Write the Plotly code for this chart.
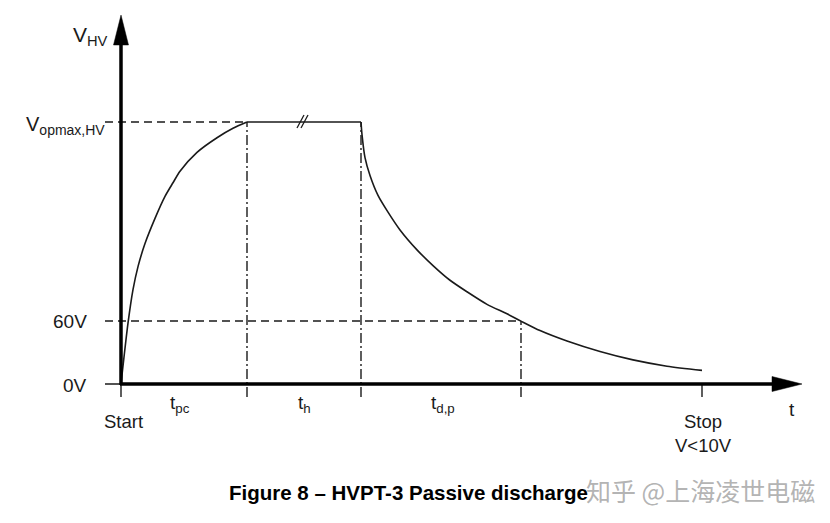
import plotly.graph_objects as go

# ---- data (schematic units: time in arbitrary units, voltage in schematic units) ----
t_charge = [0, 7, 12, 17, 24, 34, 44, 52, 59, 76, 96, 112, 126]
v_charge = [0, 58, 90, 112, 134, 158, 179, 192, 203, 221, 235, 244, 250]
t_hold = [126, 240]
v_hold = [250, 250]
t_discharge = [240, 241, 244, 249, 257, 267, 279, 296, 312, 329, 346, 366, 386, 400, 419, 446, 479, 512, 546, 581]
v_discharge = [250, 238, 216, 199, 180, 164, 147, 128, 113, 99, 88, 76, 67, 60, 51, 41, 31, 23, 17, 13]

t_marks = [0, 126, 240, 400, 581]          # start, end precharge, end hold, 60V crossing, stop
phase_labels = ["t<sub>pc</sub>", "t<sub>h</sub>", "t<sub>d,p</sub>"]
V_MAX = 250
V_60 = 60

K = 1.048  # pixels per voltage unit
X_RANGE = [-121, 709]
Y_RANGE = [-139 / K, 384 / K]

INK = "#1a1a1a"
FONT = "Liberation Sans, Arial, sans-serif"

fig = go.Figure()

curve_line = dict(color=INK, width=1.6, shape="spline", smoothing=0.7)
fig.add_trace(go.Scatter(x=t_charge, y=v_charge, mode="lines", line=curve_line, hoverinfo="skip"))
fig.add_trace(go.Scatter(x=t_hold, y=v_hold, mode="lines",
                         line=dict(color=INK, width=1.6), hoverinfo="skip"))
fig.add_trace(go.Scatter(x=t_discharge, y=v_discharge, mode="lines", line=curve_line, hoverinfo="skip"))

shapes = []
tick_len = 13 / K
y_top = 352          # arrow tip of V axis
y_base = 323.5       # arrow base
x_end = 681          # arrow tip of t axis
x_base = 651

# horizontal dashed guides
for lv in [V_60, V_MAX]:
    x_to = t_marks[1] if lv == V_MAX else t_marks[3]
    shapes.append(dict(type="line", x0=-16, x1=x_to, y0=lv, y1=lv,
                       line=dict(color=INK, width=1.5, dash="8px,5px")))
shapes.append(dict(type="line", x0=-16, x1=0, y0=0, y1=0, line=dict(color=INK, width=1.5)))

# vertical dash-dot guides
for tm in [t_marks[1], t_marks[2]]:
    shapes.append(dict(type="line", x0=tm, x1=tm, y0=-tick_len, y1=V_MAX,
                       line=dict(color=INK, width=1.4, dash="10px,3px,2px,3px")))
shapes.append(dict(type="line", x0=t_marks[3], x1=t_marks[3], y0=-tick_len, y1=V_60,
                   line=dict(color=INK, width=1.4, dash="10px,3px,2px,3px")))
for tm in [t_marks[0], t_marks[4]]:
    shapes.append(dict(type="line", x0=tm, x1=tm, y0=-tick_len, y1=0,
                       line=dict(color=INK, width=1.4)))

# axes
shapes.append(dict(type="line", x0=0, x1=0, y0=-1, y1=y_base + 2, line=dict(color="#000", width=3.5)))
shapes.append(dict(type="line", x0=-1, x1=x_base + 2, y0=0, y1=0, line=dict(color="#000", width=3.5)))
shapes.append(dict(type="path",
                   path=f"M -7.5 {y_base} L 7.5 {y_base} L 0 {y_top} Z",
                   fillcolor="#000", line=dict(color="#000", width=0.5)))
shapes.append(dict(type="path",
                   path=f"M {x_base} {-7.5 / K} L {x_base} {7.5 / K} L {x_end} 0 Z",
                   fillcolor="#000", line=dict(color="#000", width=0.5)))

# break mark on hold section
mid_hold = (t_hold[0] + t_hold[1]) / 2
for dx in [-4, 0]:
    shapes.append(dict(type="line", x0=mid_hold + dx - 3, x1=mid_hold + dx + 4,
                       y0=V_MAX - 6 / K, y1=V_MAX + 7 / K,
                       line=dict(color=INK, width=1.3)))

fig.update_layout(shapes=shapes)

ann = []
# level labels
ann.append(dict(x=0, y=0, text="0V", xanchor="right", yanchor="middle", xshift=-32, yshift=-1,
                font=dict(size=19, color=INK)))
ann.append(dict(x=0, y=V_60, text="60V", xanchor="right", yanchor="middle", xshift=-32,
                font=dict(size=19, color=INK)))
ann.append(dict(x=0, y=V_MAX, text="V<sub>opmax,HV</sub>", xanchor="right", yanchor="middle",
                xshift=-14, yshift=-3, font=dict(size=20, color=INK)))
ann.append(dict(x=0, y=y_top, text="V<sub>HV</sub>", xanchor="right", yanchor="middle",
                xshift=-11, yshift=-21, font=dict(size=21, color=INK)))

# phase labels
for i, lab in enumerate(phase_labels):
    xm = (t_marks[i] + t_marks[i + 1]) / 2 + (-4 if i == 0 else 0)
    if i == 2:
        xm = t_marks[2] + 82
    ann.append(dict(x=xm, y=0, text=lab, xanchor="center", yanchor="top", yshift=-6,
                    font=dict(size=19, color=INK)))

ann.append(dict(x=t_marks[0], y=0, text="Start", xanchor="center", yanchor="top",
                xshift=2, yshift=-25, font=dict(size=18.5, color=INK)))
ann.append(dict(x=t_marks[4], y=0, text="Stop<br>V<10V", xanchor="center", yanchor="top",
                xshift=1, yshift=-25, font=dict(size=18.5, color=INK)))
ann.append(dict(x=x_end, y=0, text="t", xanchor="center", yanchor="top",
                xshift=-10, yshift=-13, font=dict(size=19, color=INK)))

# caption and watermark
ann.append(dict(xref="paper", yref="paper", x=227 / 830, y=1 - 492 / 523,
                text="<b>Figure 8 – HVPT-3 Passive discharge</b>",
                xanchor="left", yanchor="middle", font=dict(size=20.5, color="#000")))
ann.append(dict(xref="paper", yref="paper", x=584 / 830, y=1 - 490 / 523,
                text="知乎 @上海凌世电磁", xanchor="left", yanchor="middle",
                font=dict(size=25, color="rgba(170,170,170,0.9)",
                          family="Noto Sans CJK SC, sans-serif")))

for a in ann:
    a.setdefault("showarrow", False)
    a["font"].setdefault("family", FONT)
fig.update_layout(annotations=ann)

fig.update_layout(
    width=830, height=523,
    margin=dict(l=0, r=0, t=0, b=0),
    paper_bgcolor="white", plot_bgcolor="white",
    showlegend=False,
    xaxis=dict(range=X_RANGE, visible=False, fixedrange=True),
    yaxis=dict(range=Y_RANGE, visible=False, fixedrange=True),
    font=dict(family=FONT),
)

fig.write_html("out.html")
